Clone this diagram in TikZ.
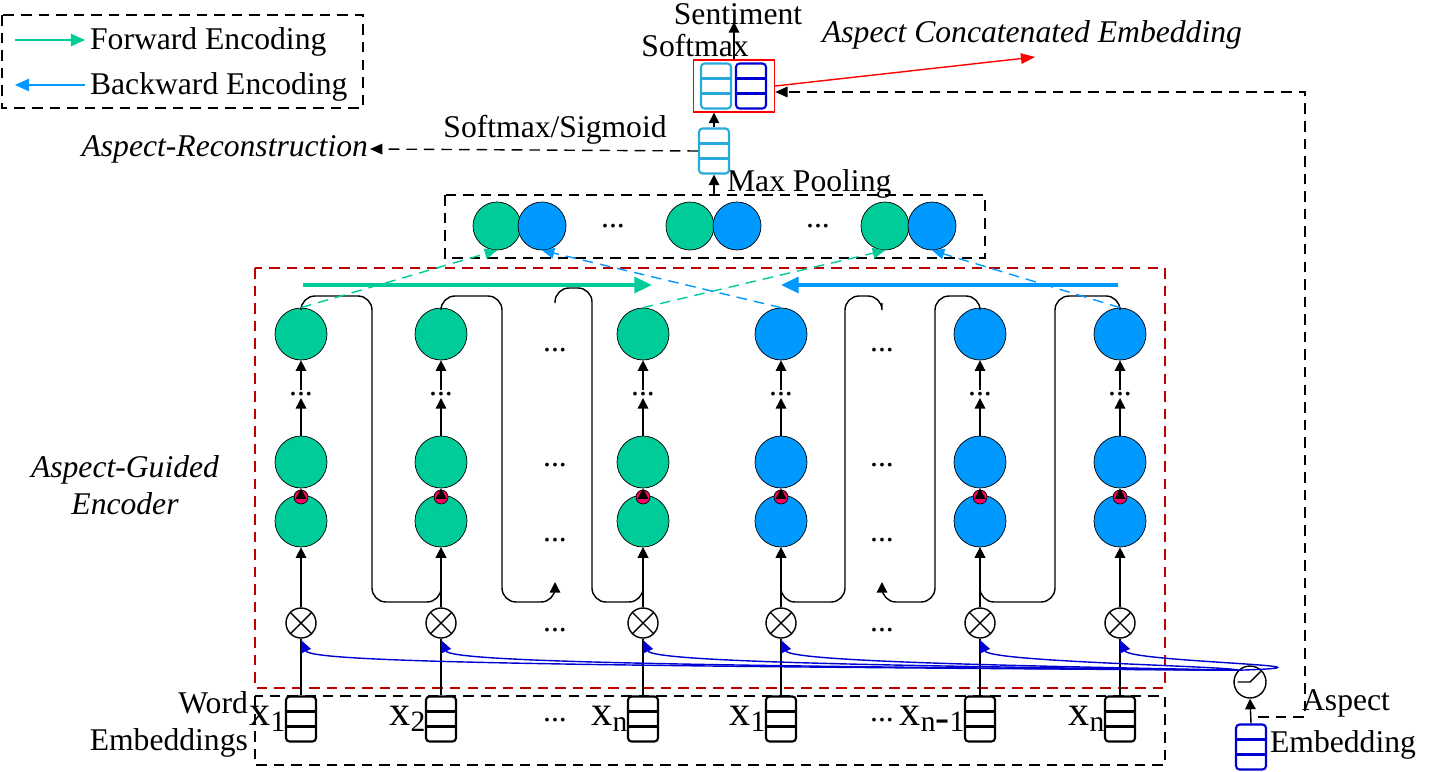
\documentclass[tikz,border=0pt]{standalone}
\usepackage{fontspec}
\setmainfont{Liberation Serif}
\usepackage{xcolor}
\usepackage{tikz}
\usetikzlibrary{arrows.meta}
\definecolor{fwd}{RGB}{0,204,153}
\definecolor{bwd}{RGB}{0,153,255}
\definecolor{gate}{RGB}{255,0,102}
\definecolor{vcyan}{RGB}{40,170,220}
\definecolor{vblue}{RGB}{0,0,210}
\tikzset{
  cell/.style={circle, draw=black, minimum size=1.04cm, inner sep=0pt},
  fcell/.style={cell, fill=fwd},
  bcell/.style={cell, fill=bwd},
  mult/.style={circle, draw=black, thick, minimum size=0.6cm, inner sep=0pt, path picture={
    \draw[thick] (path picture bounding box.north west) -- (path picture bounding box.south east)
      (path picture bounding box.north east) -- (path picture bounding box.south west);}},
  vec/.style={draw=#1, very thick, rounded corners=2pt, minimum width=0.6cm, minimum height=0.9cm, inner sep=0pt,
    path picture={\draw[#1, very thick] ([yshift=-0.3cm]path picture bounding box.north west) -- ([yshift=-0.3cm]path picture bounding box.north east)
      ([yshift=0.3cm]path picture bounding box.south west) -- ([yshift=0.3cm]path picture bounding box.south east);}},
  up/.style={-{Triangle[length=6pt,width=6pt]}, thick},
  loop/.style={thick, rounded corners=8pt},
  dsh/.style={dash pattern=on 6pt off 4pt},
  txt/.style={font=\fontsize{18}{21}\selectfont, inner sep=1pt},
  itx/.style={font=\fontsize{18}{21}\selectfont\itshape, inner sep=1pt},
}
\begin{document}
\begin{tikzpicture}[x=0.02cm, y=-0.02cm]
  \useasboundingbox (0,0) rectangle (1446,771);

  % frames
  \draw[dsh, thick, red!75!black] (255,268) rectangle (1165,688);
  \draw[dsh, thick] (255,696) rectangle (1165,765);
  \draw[dsh, thick] (445,195) rectangle (985,258);
  \draw[dsh, thick] (2,15) rectangle (363,108);

  % legend
  \draw[-{Triangle[length=8pt,width=7pt]}, very thick, fwd] (15,40) -- (85,40);
  \node[txt, anchor=west] at (88,42) {Forward Encoding};
  \draw[-{Triangle[length=8pt,width=7pt]}, very thick, bwd] (85,85) -- (15,85);
  \node[txt, anchor=west] at (88,87) {Backward Encoding};

  % encoder columns
  \foreach \x/\n/\c/\lab in {301/a/fcell/x_1, 441/b/fcell/x_2, 643/c/fcell/x_n, 781/d/bcell/x_1, 980/e/bcell/x_{n\hbox{-}1}, 1120/f/bcell/x_n} {
    \node[\c] (\n1) at (\x,334) {};
    \node[txt] (\n d) at (\x,394) {...};
    \node[\c] (\n2) at (\x,462) {};
    \node[\c] (\n3) at (\x,521) {};
    \node[circle, draw=black, fill=gate, minimum size=0.28cm, inner sep=0pt] (\n g) at (\x,497) {};
    \node[mult] (\n m) at (\x,623) {};
    \node[vec=black] (\n v) at (\x,719) {};
    \node[txt, anchor=east, font=\fontsize{24}{26}\selectfont] (\n x) at ([xshift=2pt]\n v.west) {$\mathrm{\lab}$};
    \draw[up] (\n g) -- (\n2);
    \draw[up] (\n2) -- (\n d);
    \draw[up] (\n d) -- (\n1);
    \draw[up] (\n m) -- (\n3);
    \draw[thick] (\n v) -- (\n m);
  }

  % dots columns
  \foreach \x/\n in {555/p, 882/q} {
    \node[txt] (\n1) at (\x,350) {...};
    \node[txt] (\n2) at (\x,465) {...};
    \node[txt] (\n3) at (\x,540) {...};
    \node[txt] (\n m) at (\x,630) {...};
    \node[txt] (\n v) at (\x,720) {...};
    \coordinate (\n t) at (\x,303);
    \coordinate (\n b) at (\x,582);
  }

  % recurrent links
  \draw[loop, -{Triangle[length=6pt,width=6pt]}] (a1.north) |- (372,296) -- (372,602) -| (b3.south);
  \draw[loop, -{Triangle[length=6pt,width=6pt]}] (b1.north) |- (502,296) -- (502,602) -| (pb);
  \draw[loop, -{Triangle[length=6pt,width=6pt]}] (pt) |- (592,288) -- (592,602) -| (c3.south);
  \draw[loop, -{Triangle[length=6pt,width=6pt]}] (f1.north) |- (1055,296) -- (1055,602) -| (e3.south);
  \draw[loop, -{Triangle[length=6pt,width=6pt]}] (e1.north) |- (935,296) -- (935,602) -| (qb);
  \draw[loop, -{Triangle[length=6pt,width=6pt]}] (qt) |- (845,296) -- (845,602) -| (d3.south);

  % direction arrows
  \coordinate (fs) at (303,285); \coordinate (fe) at (652,285);
  \coordinate (bs) at (1118,285); \coordinate (be) at (781,285);
  \draw[-{Triangle[length=10pt,width=9pt]}, line width=2pt, fwd] (fs) -- (fe);
  \draw[-{Triangle[length=10pt,width=9pt]}, line width=2pt, bwd] (bs) -- (be);

  % max pooling
  \node[fcell, minimum size=0.96cm] (m1) at (497,226) {};
  \node[bcell, minimum size=0.96cm] (m2) at (542,226) {};
  \node[txt] (md1) at (613,226) {...};
  \node[fcell, minimum size=0.96cm] (m3) at (690,226) {};
  \node[bcell, minimum size=0.96cm] (m4) at (737,226) {};
  \node[txt] (md2) at (818,226) {...};
  \node[fcell, minimum size=0.96cm] (m5) at (885,226) {};
  \node[bcell, minimum size=0.96cm] (m6) at (932,226) {};
  \node[txt, anchor=west] (mp) at (725,184) {Max Pooling};
  \draw[dsh, thick, fwd, -{Triangle[length=7pt,width=6pt]}] (a1.north) -- (m1.south);
  \draw[dsh, thick, fwd, -{Triangle[length=7pt,width=6pt]}] (c1.north) -- (m5.south);
  \draw[dsh, thick, bwd, -{Triangle[length=7pt,width=6pt]}] (d1.north) -- (m2.south);
  \draw[dsh, thick, bwd, -{Triangle[length=7pt,width=6pt]}] (f1.north) -- (m6.south);

  % output
  \node[vec=vcyan] (pool) at (714,151) {};
  \node[vec=vcyan] (sa) at (716,86) {};
  \node[vec=vblue] (sb) at (751,86) {};
  \node[draw=red, thick, minimum width=1.62cm, minimum height=1.04cm] (cat) at (734,86) {};
  \draw[up] (714,195) -- (pool.south);
  \draw[up] (pool.north) -- (pool.north |- cat.south);
  \node[txt] (sent) at (738,14) {Sentiment};
  \node[txt] (smax) at (695,46) {Softmax};
  \draw[up] (cat.north) -- (734,22);
  \node[txt] (sig) at (555,130) {Softmax/Sigmoid};
  \node[itx, anchor=east] (rec) at (370,149) {Aspect-Reconstruction};
  \draw[dsh, thick, -{Triangle[length=7pt,width=6pt]}] (pool.west) -- (rec.east);
  \node[itx] (ace) at (1032,35) {Aspect Concatenated Embedding};
  \draw[red, thick, -{Triangle[length=8pt,width=6pt]}] (cat.east) -- (1035,57);

  % aspect embedding
  \node[vec=vblue] (asp) at (1251,747) {};
  \node[circle, draw=black, thick, minimum size=0.64cm, inner sep=0pt] (act) at (1250,682) {};
  \draw[thick] ([xshift=-7pt]act.center) -- ([xshift=0pt]act.center) -- ([xshift=6pt,yshift=6pt]act.center);
  \draw[up] (asp.north) -- (act.south);
  \node[txt, anchor=west] (aspl) at (1300,703) {Aspect};
  \node[txt, anchor=west] (aspe) at (1268,745) {Embedding};
  \coordinate (ak) at (1305,717);
  \draw[dsh, thick, -{Triangle[length=7pt,width=6pt]}] (1258,717) -- (ak) |- (cat.east |- 0,92);

  % aspect guidance
  \foreach \x/\n in {301/a, 441/b, 643/c, 781/d, 980/e, 1120/f} {
    \draw[vblue, thick, -{Triangle[length=7pt,width=6pt]}] (act.north west) .. controls (\x+250,666) and (\x+10,662) .. (\x,640);
  }

  % labels
  \node[itx, align=center] (enc) at (125,485) {Aspect-Guided\\Encoder};
  \node[txt, align=right, anchor=east] (wemb) at (250,724) {Word\\Embeddings};
\end{tikzpicture}
\end{document}
